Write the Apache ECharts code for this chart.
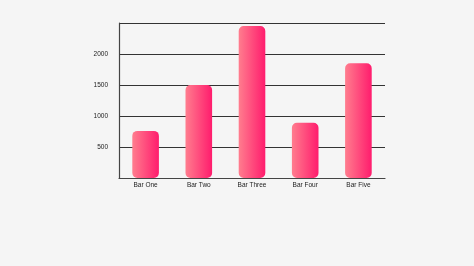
<!DOCTYPE html>
<html><head><meta charset="utf-8">
<script src="https://cdn.jsdelivr.net/npm/echarts@6/dist/echarts.min.js"></script>
<style>html,body{margin:0;padding:0;background:#f5f5f5}#c{width:474px;height:266px}</style>
</head><body><div id="c"></div>
<script>
const categories = ['Bar One', 'Bar Two', 'Bar Three', 'Bar Four', 'Bar Five'];
const values = [760, 1500, 2450, 890, 1850];
const yTicks = [500, 1000, 1500, 2000];

const chart = echarts.init(document.getElementById('c'), null, {renderer: 'canvas'});
chart.setOption({
  backgroundColor: '#f5f5f5',
  animation: false,
  grid: {left: 119, right: 89, top: 23, bottom: 88},
  xAxis: {
    type: 'category', data: categories,
    axisLine: {show: true, lineStyle: {color: '#444', width: 1.2}},
    axisTick: {show: false},
    axisLabel: {color: '#222', fontSize: 6.5, fontFamily: 'Liberation Sans', margin: 4}
  },
  yAxis: {
    type: 'value', min: 0, max: 2500, interval: 500,
    axisLine: {show: true, lineStyle: {color: '#444', width: 1.2}},
    axisTick: {show: false},
    splitLine: {show: true, lineStyle: {color: '#333', width: 1.2}},
    axisLabel: {
      color: '#222', fontSize: 6.5, fontFamily: 'Liberation Sans', margin: 11,
      formatter: v => yTicks.includes(v) ? String(v) : ''
    }
  },
  series: [{
    type: 'bar', data: values, barWidth: '50%',
    itemStyle: {
      borderRadius: 5,
      color: new echarts.graphic.LinearGradient(0, 0, 1, 0, [
        {offset: 0, color: '#ff7d8e'},
        {offset: 1, color: '#ff1c6d'}
      ])
    }
  }]
});
</script></body></html>
